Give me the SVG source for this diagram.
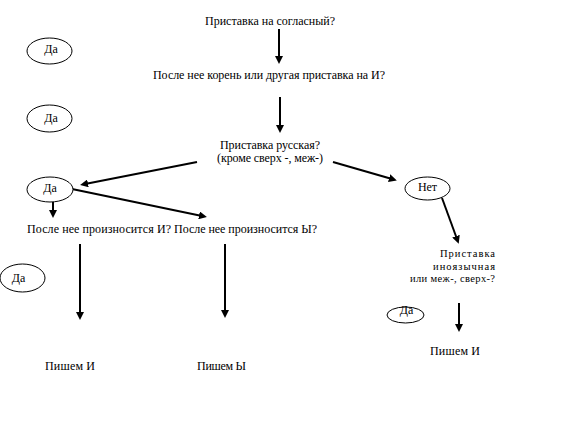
<svg xmlns="http://www.w3.org/2000/svg" width="583" height="441" viewBox="0 0 583 441">
<style>
text{font-family:"Liberation Serif","Times New Roman","DejaVu Serif",serif;font-size:12px;fill:#000}
.s{font-size:10.5px}
.e{fill:#fff;stroke:#000;stroke-width:1}
.c line{stroke:#000;stroke-width:2;marker-end:url(#ah)}
</style>
<defs>
<marker id="ah" markerUnits="userSpaceOnUse" markerWidth="8" markerHeight="8" refX="3" refY="4" orient="auto">
<path d="M0,0 L8,4 L0,8 z" fill="#000"/>
</marker>
</defs>
<rect width="583" height="441" fill="#fff"/>
<g class="c" id="connectors">
<line x1="279" y1="29" x2="279" y2="59"/>
<line x1="280" y1="97" x2="280" y2="128"/>
<line x1="197" y1="162" x2="85" y2="184"/>
<line x1="72" y1="189" x2="202" y2="216"/>
<line x1="53" y1="202" x2="53" y2="213"/>
<line x1="333" y1="162" x2="392" y2="179"/>
<line x1="442" y1="198" x2="457" y2="239"/>
<line x1="80" y1="244" x2="80" y2="315"/>
<line x1="225" y1="244" x2="225" y2="313"/>
<line x1="459" y1="303" x2="459" y2="327"/>
</g>
<g id="q1"><text x="205" y="25" textLength="130">Приставка на согласный?</text></g>
<g id="q2"><text x="153" y="79" textLength="232">После нее корень или другая приставка на И?</text></g>
<g id="q3"><text x="220" y="149" textLength="100">Приставка русская?</text><text x="217" y="162" textLength="106">(кроме сверх -, меж-)</text></g>
<g id="q4"><text x="27" y="233" textLength="144">После нее произносится И?</text></g>
<g id="q5"><text x="174" y="233" textLength="143">После нее произносится Ы?</text></g>
<g id="q6"><text class="s" x="440" y="257" textLength="55">Приставка</text><text class="s" x="433" y="269.5" textLength="62">иноязычная</text><text class="s" x="410" y="282" textLength="85">или меж-, сверх-?</text></g>
<g id="r1"><text x="45" y="370" textLength="50">Пишем И</text></g>
<g id="r2"><text x="197" y="370" textLength="49">Пишем Ы</text></g>
<g id="r3"><text x="430" y="355" textLength="50">Пишем И</text></g>
<g id="da1"><ellipse class="e" cx="49.5" cy="51" rx="22.5" ry="13"/><text x="51" y="53" text-anchor="middle">Да</text></g>
<g id="da2"><ellipse class="e" cx="49.5" cy="118.5" rx="22.5" ry="13.5"/><text x="51" y="122" text-anchor="middle">Да</text></g>
<g id="da3"><ellipse class="e" cx="50" cy="189.5" rx="23" ry="12.5"/><text x="50" y="192" text-anchor="middle">Да</text></g>
<g id="da4"><ellipse class="e" cx="22.5" cy="278" rx="22.5" ry="14"/><text x="18.5" y="282" text-anchor="middle">Да</text></g>
<g id="net"><ellipse class="e" cx="427.5" cy="188.5" rx="22.5" ry="11.5"/><text x="427.5" y="191" text-anchor="middle">Нет</text></g>
<g id="da5"><ellipse class="e" cx="405.5" cy="315" rx="18.5" ry="8"/><text x="406.5" y="314" text-anchor="middle">Да</text></g>
</svg>
